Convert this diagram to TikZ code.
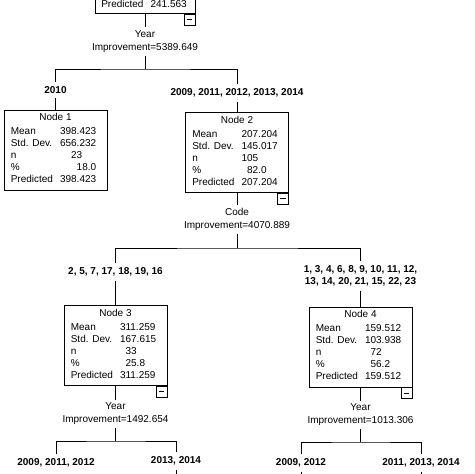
\documentclass[tikz,border=0pt]{standalone}
\usepackage{fontspec}
\setmainfont{Liberation Sans}

\newcommand{\statbox}[6]{#1\\[1.5pt]\begin{tabular}[t]{@{}l@{\hspace{5.25pt}}l@{\hspace{3pt}}}Mean & #2\\ Std. Dev. & #3\\ n & #4\\ \% & #5\\ Predicted & #6\end{tabular}}

\begin{document}
\begin{tikzpicture}[x=0.75pt,y=0.75pt,yscale=-1,xscale=1,
  line width=0.6pt,
  treenode/.style={draw, minimum width=77.25pt, minimum height=60pt, inner sep=0pt, align=center, font=\fontsize{7.5}{9}\selectfont},
  rowtext/.style={inner sep=0pt, font=\fontsize{7.5}{9}\selectfont},
  split/.style={inner sep=2pt, align=center, font=\fontsize{7.5}{9.75}\selectfont},
  cat/.style={inner sep=3pt, align=center, font=\bfseries\fontsize{7.5}{9}\selectfont},
  collapse/.style={draw, anchor=north east, minimum size=8.25pt, inner sep=0pt,
    path picture={\draw ([xshift=-2.2pt]path picture bounding box.center) -- ([xshift=2.2pt]path picture bounding box.center);}}]
\useasboundingbox (0,0) rectangle (474,474);
\clip (0,0) rectangle (474,474);

%Shape: Rectangle [root, cut by the top edge]
\node (n0) [treenode, minimum width=75pt, anchor=south] at (145,14) {};
% Text Node
\node (p0) [rowtext] at (144,5) {\begin{tabular}{@{}l@{\hspace{5.25pt}}l@{}}Predicted & 241.563\end{tabular}};
\node (m0) [collapse] at (n0.south east) {};

% Text Node
\node (s0) [split] at (145,41.5) {Year\\Improvement=5389.649};
\coordinate (b0) at (145,69);
\node (c1) [cat] at (55.5,90) {2010};
\node (c2) [cat] at (237,93) {2009, 2011, 2012, 2013, 2014};

%Shape: Rectangle [Node 1]
\node (n1) [treenode] at (55.5,150) {\statbox{Node 1}{398.423}{656.232}{\phantom{00}23}{\phantom{000}18.0}{398.423}};
%Shape: Rectangle [Node 2]
\node (n2) [treenode] at (237,152.5) {\statbox{Node 2}{207.204}{145.017}{105}{\phantom{0}82.0}{207.204}};
\node (m2) [collapse] at (n2.south east) {};

% Text Node
\node (s2) [split] at (237,219.5) {Code\\Improvement=4070.889};
\coordinate (b2) at (237,248);
\node (c3) [cat] at (115.5,272) {2, 5, 7, 17, 18, 19, 16};
\node (c4) [cat] at (360.5,276) {1, 3, 4, 6, 8, 9, 10, 11, 12,\\13, 14, 20, 21, 15, 22, 23};

%Shape: Rectangle [Node 3]
\node (n3) [treenode] at (115.5,345.5) {\statbox{Node 3}{311.259}{167.615}{\phantom{0}33}{\phantom{0}25.8}{311.259}};
\node (m3) [collapse] at (n3.south east) {};
%Shape: Rectangle [Node 4]
\node (n4) [treenode] at (360.5,347) {\statbox{Node 4}{159.512}{103.938}{\phantom{0}72}{\phantom{0}56.2}{159.512}};
\node (m4) [collapse] at (n4.south east) {};

% Text Node
\node (s3) [split] at (115.5,414) {Year\\Improvement=1492.654};
\coordinate (b3) at (115.5,441);
\node (c5) [cat] at (56,463) {2009, 2011, 2012};
\node (c6) [cat] at (176,461) {2013, 2014};
\coordinate (e6) at (176,490);

% Text Node
\node (s4) [split] at (360.5,415) {Year\\Improvement=1013.306};
\coordinate (b4) at (360.5,442);
\node (c7) [cat] at (301,463) {2009, 2012};
\node (c8) [cat] at (421,463) {2011, 2013, 2014};
\coordinate (e7) at (301,490);
\coordinate (e8) at (421,490);

%Straight Lines
\draw (n0.south) -- (s0.north);
\draw (s0.south) -- (b0);
\draw (c1.north) |- (b0) -| (c2.north);
\draw (c1.south) -- (n1.north);
\draw (c2.south) -- (n2.north);

\draw (n2.south) -- (s2.north);
\draw (s2.south) -- (b2);
\draw (c3.north) |- (b2) -| (c4.north);
\draw (c3.south) -- (n3.north);
\draw (c4.south) -- (n4.north);

\draw (n3.south) -- (s3.north);
\draw (s3.south) -- (b3);
\draw (c5.north) |- (b3) -| (c6.north);
\draw (c6.south) -- (e6);

\draw (n4.south) -- (s4.north);
\draw (s4.south) -- (b4);
\draw (c7.north) |- (b4) -| (c8.north);
\draw (c7.south) -- (e7);
\draw (c8.south) -- (e8);

\end{tikzpicture}
\end{document}
